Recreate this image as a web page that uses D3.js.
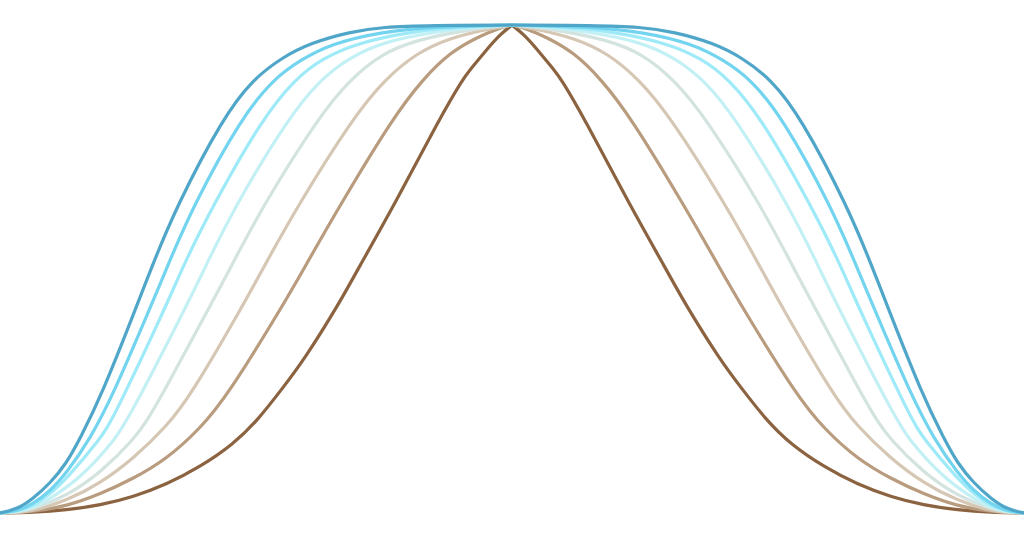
<!DOCTYPE html>
<html>
<head>
<meta charset="utf-8">
<script src="https://cdn.jsdelivr.net/npm/d3@7"></script>
<style>
html,body{margin:0;padding:0;background:#fff;overflow:hidden;}
svg{display:block;}
</style>
</head>
<body>
<svg id="chart" width="1024" height="536"></svg>
<script>
// Left-half readings [t, value]; each curve is symmetric about t = 0.5
const curveBlue = [[0,0],[0.017,0.008],[0.032,0.029],[0.049,0.061],[0.065,0.102],[0.078,0.152],[0.099,0.240],[0.135,0.432],[0.147,0.498],[0.172,0.627],[0.218,0.811],[0.247,0.889],[0.276,0.934],[0.303,0.963],[0.342,0.986],[0.374,0.996],[0.420,0.999],[0.5,1]];
const curveSky = [[0,0],[0.017,0.004],[0.032,0.018],[0.049,0.045],[0.065,0.082],[0.088,0.152],[0.110,0.240],[0.149,0.432],[0.162,0.498],[0.188,0.627],[0.236,0.811],[0.267,0.889],[0.293,0.928],[0.325,0.963],[0.374,0.986],[0.420,0.996],[0.5,1]];
const curveCyan = [[0,0],[0.017,0.004],[0.032,0.014],[0.049,0.039],[0.065,0.070],[0.098,0.152],[0.110,0.191],[0.164,0.432],[0.177,0.498],[0.207,0.627],[0.257,0.811],[0.288,0.889],[0.315,0.932],[0.349,0.963],[0.400,0.986],[0.449,0.996],[0.5,1]];
const curvePaleCyan = [[0,0],[0.017,0.002],[0.032,0.010],[0.049,0.029],[0.081,0.076],[0.112,0.150],[0.125,0.191],[0.184,0.432],[0.199,0.498],[0.229,0.627],[0.282,0.811],[0.313,0.889],[0.342,0.934],[0.374,0.965],[0.423,0.986],[0.469,0.996],[0.5,1]];
const curveGray = [[0,0],[0.017,0.002],[0.032,0.008],[0.065,0.035],[0.098,0.082],[0.132,0.154],[0.144,0.191],[0.158,0.240],[0.206,0.428],[0.224,0.498],[0.256,0.627],[0.311,0.811],[0.342,0.889],[0.374,0.943],[0.407,0.969],[0.446,0.986],[0.479,0.996],[0.5,1]];
const curveSand = [[0,0],[0.017,0.001],[0.032,0.004],[0.065,0.025],[0.098,0.061],[0.130,0.111],[0.163,0.178],[0.186,0.240],[0.238,0.428],[0.256,0.498],[0.290,0.627],[0.345,0.811],[0.376,0.889],[0.407,0.943],[0.439,0.973],[0.472,0.990],[0.5,1]];
const curveTan = [[0,0],[0.032,0.002],[0.065,0.014],[0.098,0.039],[0.130,0.070],[0.163,0.111],[0.195,0.172],[0.222,0.240],[0.277,0.428],[0.296,0.498],[0.331,0.627],[0.384,0.811],[0.413,0.889],[0.439,0.943],[0.466,0.975],[0.488,0.994],[0.5,1]];
const curveBrown = [[0,0],[0.032,0.001],[0.065,0.006],[0.098,0.016],[0.130,0.033],[0.163,0.059],[0.195,0.094],[0.228,0.141],[0.252,0.191],[0.276,0.256],[0.297,0.314],[0.332,0.432],[0.349,0.498],[0.384,0.627],[0.430,0.811],[0.452,0.889],[0.459,0.908],[0.475,0.949],[0.488,0.980],[0.5,1]];

// drawing order: brown first, blue last (on top)
const seriesData = [curveBrown, curveTan, curveSand, curveGray, curvePaleCyan, curveCyan, curveSky, curveBlue];
const seriesColors = ["#8b6340","#b99b7e","#d6c7b5","#d3e3df","#c3f0f4","#9eeaf8","#72d4ef","#4fa6c8"];

const W = 1024, H = 536;
const x = d3.scaleLinear().domain([0, 1]).range([0, W]);
const y = d3.scaleLinear().domain([0, 1]).range([513, 25]);

const svg = d3.select("#chart");
const line = d3.line().x(d => x(d[0])).y(d => y(d[1])).curve(d3.curveBasis);

seriesData.forEach((pts, i) => {
  const left = pts;
  const right = pts.map(d => [1 - d[0], d[1]]).reverse();
  [left, right].forEach(half => {
    svg.append("path")
      .attr("d", line(half))
      .attr("fill", "none")
      .attr("stroke", seriesColors[i])
      .attr("stroke-width", 3.2)
      .attr("stroke-linecap", "round")
      .attr("stroke-linejoin", "round");
  });
});
</script>
</body>
</html>
